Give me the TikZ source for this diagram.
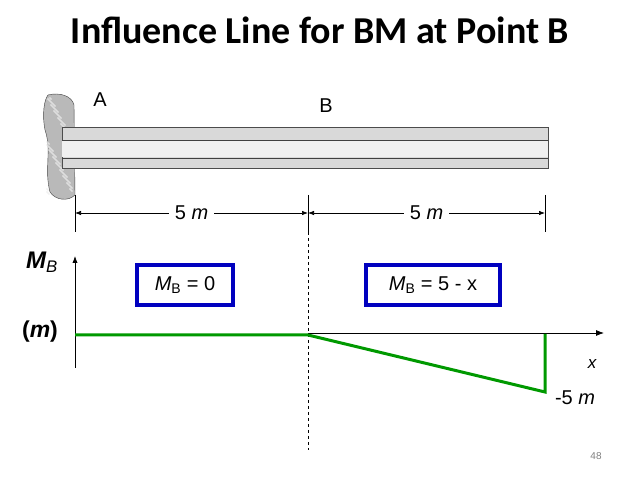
\documentclass[tikz,border=0pt]{standalone}
\usepackage{fontspec}
\setmainfont{Liberation Sans}
\newfontfamily\titlefont{Carlito}
\usetikzlibrary{arrows.meta}
\begin{document}
\begin{tikzpicture}[x=1pt,y=-1pt,
  lbl/.style={font=\fontsize{20}{22}\selectfont},
  eqbox/.style={draw=blue!75!black,line width=3.5pt,minimum height=40pt,font=\fontsize{20}{22}\selectfont},
  dim/.style={{Latex[length=6pt]}-{Latex[length=6pt]},line width=0.7pt},
  gr/.style={draw=green!60!black,line width=3pt}]
\useasboundingbox (0,0) rectangle (638,478);
\node[font=\titlefont\bfseries\fontsize{38}{42}\selectfont] (title) at (320,30) {Influence Line for BM at Point B};
% wall
\draw[fill=gray!55,draw=gray!50!black] (48,95) .. controls (60,92) and (72,96) .. (74,105) -- (75,195) .. controls (68,202) and (55,200) .. (50,192) .. controls (44,170) and (52,150) .. (45,130) .. controls (42,115) and (44,100) .. (48,95);
\foreach \i in {1,...,120}{\fill[gray!15] ({47+mod(\i*7,26)},{98+mod(\i*13,97)}) circle (0.9);}
% beam
\draw[fill=gray!30,draw=gray!60!black,line width=0.8pt] (62,127) rectangle (548,168);
\fill[gray!12] (62,141) rectangle (548,157);
\draw[gray!50!black,line width=0.8pt] (62,140) -- (548,140) (62,158) -- (548,158);
\node[lbl] (A) at (100,100) {A};
\node[lbl] (B) at (326,106) {B};
% dims
\coordinate (d1) at (75,213); \coordinate (d2) at (308,213); \coordinate (d3) at (545,213);
\draw[line width=0.7pt] (75,195) -- (75,232) (308,195) -- (308,232) (545,195) -- (545,232);
\draw[dim] (d1) -- node[fill=white,lbl,inner xsep=6pt] {5 \textit{m}} (d2);
\draw[dim] (d2) -- node[fill=white,lbl,inner xsep=6pt] {5 \textit{m}} (d3);
\draw[dashed,line width=0.5pt] (308,232) -- (308,450);
% axes
\draw[-{Latex[length=7pt]},line width=0.8pt] (75,368) -- (75,256);
\draw[-{Latex[length=8pt]},line width=0.8pt] (308,333) -- (604,333);
\node[font=\bfseries\itshape\fontsize{24}{26}\selectfont] (MB) at (42,262) {M\textsubscript{\normalfont\itshape B}};
\node[font=\bfseries\fontsize{23}{25}\selectfont] (m) at (40,332) {(\textit{m})};
\node[font=\itshape\fontsize{17}{19}\selectfont] (x) at (592,364) {x};
\node[lbl] (m5) at (575,398) {-5 \textit{m}};
% boxes
\node[eqbox,minimum width=96pt] (b1) at (185,285) {\textit{M}\textsubscript{B} = 0};
\node[eqbox,minimum width=134pt] (b2) at (433,285) {\textit{M}\textsubscript{B} = 5 - x};
% influence line
\draw[gr] (75,335) -- (308,335) -- (545,392) -- (545,334);
\node[font=\fontsize{10}{11}\selectfont,text=gray] (pg) at (596,456) {48};
\end{tikzpicture}
\end{document}
